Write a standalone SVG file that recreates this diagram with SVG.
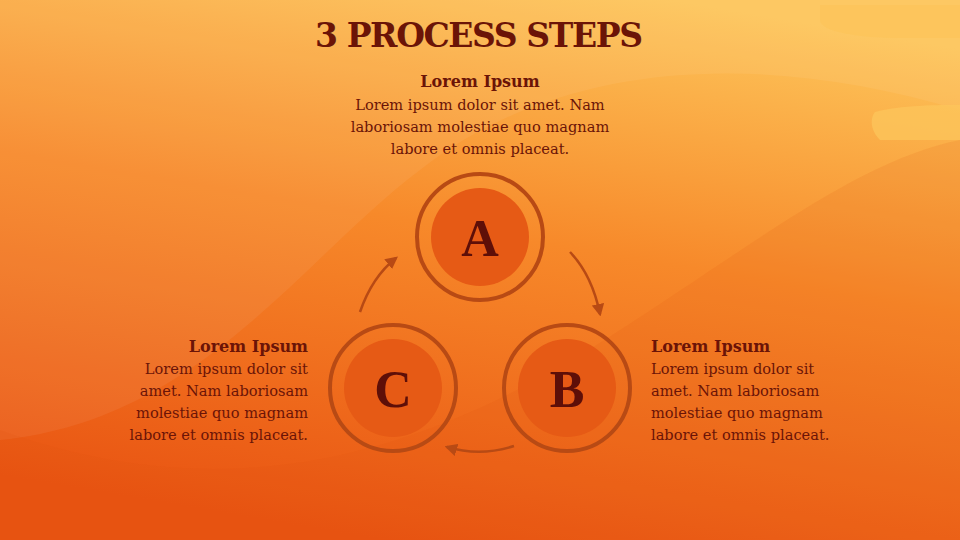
<svg xmlns="http://www.w3.org/2000/svg" width="960" height="540" viewBox="0 0 960 540">
<defs>
<linearGradient id="bg" x1="0.7" y1="0" x2="0.4" y2="1">
<stop offset="0" stop-color="#fdc55a"/>
<stop offset="0.45" stop-color="#f7892a"/>
<stop offset="1" stop-color="#e95412"/>
</linearGradient>
<marker id="ah" viewBox="0 0 10 10" refX="8" refY="5" markerWidth="5" markerHeight="5" orient="auto"><path d="M0,0 L10,5 L0,10 z" fill="#b84a14"/></marker>
<style>
.t{font-family:"DejaVu Serif","Liberation Serif",serif;fill:#6b1407}
.h{font-weight:bold;font-size:16px}
.b{font-size:14.6px}
.ring{fill:none;stroke:#b84a14;stroke-width:4}
.core{fill:#e65a15}
.L{font-family:"Liberation Serif",serif;font-weight:bold;font-size:52px;fill:#5e0f08;text-anchor:middle}
.c{fill:none;stroke:#b84a14;stroke-width:2.5;marker-end:url(#ah)}
</style>
</defs>
<rect width="960" height="540" fill="url(#bg)"/>
<path d="M0,440 C200,420 300,260 420,170 C560,60 760,50 960,110 L960,0 L0,0 Z" fill="#ffffff" opacity="0.06"/>
<path d="M0,430 C250,520 450,440 620,330 C760,240 860,160 960,140 L960,540 L0,540 Z" fill="#e0500e" opacity="0.12"/>
<path d="M820,5 H960 V38 H900 C860,38 820,32 820,20 Z" fill="#fdc45a" opacity="0.8"/>
<path d="M875,112 C900,105 940,105 960,105 V140 H880 C870,130 870,118 875,112 Z" fill="#fdc45a" opacity="0.8"/>
<text x="480" y="47" text-anchor="middle" class="t" font-weight="bold" font-size="33" font-family="Liberation Serif, serif" letter-spacing="2" textLength="330">3 PROCESS STEPS</text>
<g id="textA" class="t" text-anchor="middle">
<text x="480" y="87" class="h">Lorem Ipsum</text>
<text x="480" y="110" class="b">Lorem ipsum dolor sit amet. Nam</text>
<text x="480" y="132" class="b">laboriosam molestiae quo magnam</text>
<text x="480" y="154" class="b">labore et omnis placeat.</text>
</g>
<g id="textB" class="t">
<text x="651" y="352" class="h">Lorem Ipsum</text>
<text x="651" y="374" class="b">Lorem ipsum dolor sit</text>
<text x="651" y="396" class="b">amet. Nam laboriosam</text>
<text x="651" y="418" class="b">molestiae quo magnam</text>
<text x="651" y="440" class="b">labore et omnis placeat.</text>
</g>
<g id="textC" class="t" text-anchor="end">
<text x="308" y="352" class="h">Lorem Ipsum</text>
<text x="308" y="374" class="b">Lorem ipsum dolor sit</text>
<text x="308" y="396" class="b">amet. Nam laboriosam</text>
<text x="308" y="418" class="b">molestiae quo magnam</text>
<text x="308" y="440" class="b">labore et omnis placeat.</text>
</g>
<g id="nodeA"><circle cx="480" cy="237" r="63" class="ring"/><circle cx="480" cy="237" r="49" class="core"/><text x="480" y="256" class="L">A</text></g>
<g id="nodeB"><circle cx="567" cy="388" r="63" class="ring"/><circle cx="567" cy="388" r="49" class="core"/><text x="567" y="407" class="L">B</text></g>
<g id="nodeC"><circle cx="393" cy="388" r="63" class="ring"/><circle cx="393" cy="388" r="49" class="core"/><text x="393" y="407" class="L">C</text></g>
<g id="connectors">
<path d="M570,252 Q592,275 600,314" class="c"/>
<path d="M514,446 Q480,457 447,447" class="c"/>
<path d="M360,312 Q372,277 396,258" class="c"/>
</g>
</svg>
